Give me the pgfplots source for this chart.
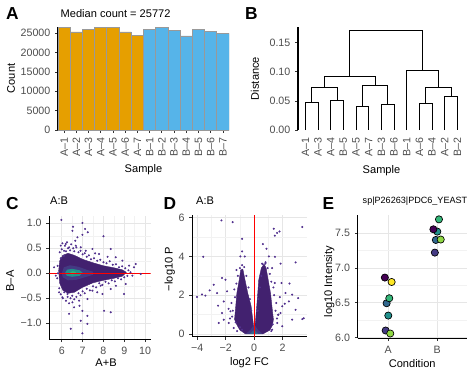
\documentclass[border=0pt]{standalone}
\usepackage{pgfplots}
\pgfplotsset{compat=1.18}
\usepackage{fontspec}
\setmainfont{Liberation Sans}
\definecolor{orangeA}{HTML}{E69F00}
\definecolor{blueA}{HTML}{56B4E9}
\definecolor{barline}{HTML}{999999}
\definecolor{v1}{HTML}{440154}
\definecolor{v2}{HTML}{443A83}
\definecolor{v3}{HTML}{31688E}
\definecolor{v4}{HTML}{21908C}
\definecolor{v5}{HTML}{35B779}
\definecolor{v6}{HTML}{8FD744}
\definecolor{v7}{HTML}{FDE725}
\definecolor{dotc}{HTML}{52318E}
\definecolor{dense}{HTML}{42216F}
\definecolor{tickgray}{HTML}{4D4D4D}
\definecolor{gridmaj}{HTML}{E6E6E6}
\definecolor{gridmin}{HTML}{F2F2F2}
\pgfplotsset{
  base/.style={scale only axis,
    font=\fontsize{8}{9.6}\selectfont,
    tick label style={font=\fontsize{8}{9.6}\selectfont, text=tickgray},
    /pgf/number format/assume math mode=true,
    scaled ticks=false,
    tick align=outside, major tick length=2.2pt, minor tick length=0pt,
    tick style={black!80, line width=0.5pt},
    axis line style={-, line width=0.8pt},
    label style={font=\fontsize{8.3}{10}\selectfont, text=black},
    axis x line*=bottom, axis y line*=left},
  gridded/.style={grid=both, major grid style={gridmaj, line width=0.5pt},
    minor grid style={gridmin, line width=0.35pt},
    axis line style={-, line width=1.1pt}},
  dot/.style={only marks, mark=*, mark size=0.55pt, color=#1},
  epoint/.style={only marks, mark=*, mark size=2.7pt, mark options={fill=#1, draw=black, line width=0.5pt}},
  dend/.style={black, solid, mark=none, line width=0.75pt, line join=miter},
}
\begin{document}
\begin{tikzpicture}[x=0.75pt,y=-0.75pt]
\path[use as bounding box] (0,0) rectangle (474,379);

% ---------- Panel A ----------
\node[font=\fontsize{13}{14}\selectfont\bfseries] at (12.5,14) {A};
\node[anchor=west, font=\fontsize{8.3}{10}\selectfont] at (56,13.5) {Median count = 25772};
\begin{axis}[base, at={(43.5pt,-97.5pt)}, anchor=south west, width=128.25pt, height=77.25pt,
  xmin=0.5, xmax=14.5, ymin=0, ymax=26600,
  xtick={1,...,14},
  xticklabels={A–1,A–2,A–3,A–4,A–5,A–6,A–7,B–1,B–2,B–3,B–4,B–5,B–6,B–7},
  xticklabel style={rotate=90, anchor=east},
  ytick={0,5000,10000,15000,20000,25000},
  yticklabels={0,5000,10000,15000,20000,25000},
  xlabel={Sample}, ylabel={Count},
  xlabel style={at={(axis description cs:0.5,-0.388)}, anchor=center},
  ylabel style={at={(axis description cs:-0.275,0.5)}, anchor=center}]
\addplot[ybar, bar width=1, fill=orangeA, draw=barline, line width=0.6pt] coordinates
  {(1,26450) (2,25330) (3,25930) (4,26450) (5,26450) (6,25330) (7,24480)};
\addplot[ybar, bar width=1, fill=blueA, draw=barline, line width=0.6pt] coordinates
  {(8,25860) (9,26370) (10,25780) (11,24300) (12,26040) (13,25410) (14,24900)};
\end{axis}

% ---------- Panel B ----------
\node[font=\fontsize{13}{14}\selectfont\bfseries] at (251.5,13.5) {B};
\begin{axis}[base, at={(223.5pt,-97.5pt)}, anchor=south west, width=125.25pt, height=77.25pt,
  xmin=0.42, xmax=13.6, ymin=0, ymax=0.177,
  x axis line style={draw=none}, xtick style={draw=none},
  xtick={1,...,13},
  xticklabels={A–1,A–3,A–4,B–5,A–5,A–7,B–3,B–6,B–1,A–6,B–4,A–2,B–2},
  xticklabel style={rotate=90, anchor=east},
  ytick={0,0.05,0.1,0.15}, yticklabels={0.00,0.05,0.10,0.15},
  xlabel={Sample}, ylabel={Distance},
  xlabel style={at={(axis description cs:0.5,-0.398)}, anchor=center},
  ylabel style={at={(axis description cs:-0.2575,0.5)}, anchor=center}]
\addplot[dend] coordinates {(1,0) (1,0.0475) (2,0.0475) (2,0)};
\addplot[dend] coordinates {(3,0) (3,0.0515) (4,0.0515) (4,0)};
\addplot[dend] coordinates {(1.5,0.0475) (1.5,0.0722) (3.5,0.0722) (3.5,0.0515)};
\addplot[dend] coordinates {(5,0) (5,0.040) (6,0.040) (6,0)};
\addplot[dend] coordinates {(7,0) (7,0.044) (8,0.044) (8,0)};
\addplot[dend] coordinates {(5.5,0.040) (5.5,0.0762) (7.5,0.0762) (7.5,0.044)};
\addplot[dend] coordinates {(2.5,0.0722) (2.5,0.0928) (6.5,0.0928) (6.5,0.0762)};
\addplot[dend] coordinates {(10,0) (10,0.0453) (11,0.0453) (11,0)};
\addplot[dend] coordinates {(12,0) (12,0.0584) (13,0.0584) (13,0)};
\addplot[dend] coordinates {(10.5,0.0453) (10.5,0.0733) (12.5,0.0733) (12.5,0.0584)};
\addplot[dend] coordinates {(9,0) (9,0.103) (11.5,0.103) (11.5,0.0733)};
\addplot[dend] coordinates {(4.5,0.0928) (4.5,0.171) (10.25,0.171) (10.25,0.103)};
\end{axis}

% ---------- Panel C ----------
\node[font=\fontsize{13}{14}\selectfont\bfseries] at (12.5,204) {C};
\node[anchor=west, font=\fontsize{8.3}{10}\selectfont] at (45.5,200.7) {A:B};
\begin{axis}[base, gridded, at={(36.975pt,-254.475pt)}, anchor=south west, width=76.05pt, height=92.5pt,
  xmin=5.40, xmax=10.27, ymin=-1.32, ymax=1.146,
  xtick={6,7,8,9,10}, xticklabels={6,7,8,9,10}, minor x tick num=1,
  ytick={-1,-0.5,0,0.5,1}, yticklabels={−1.0,−0.5,0.0,0.5,1.0}, minor y tick num=1,
  xlabel={A+B}, ylabel={B–A},
  xlabel style={at={(axis description cs:0.56,-0.192)}, anchor=center},
  ylabel style={at={(axis description cs:-0.388,0.473)}, anchor=center}]
\addplot[fill=dense, draw=dense, line width=0.3pt] coordinates {(5.85,0.05) (5.9,0.25) (6.05,0.36) (6.3,0.4) (6.6,0.36) (7.0,0.28) (7.5,0.21) (8.0,0.15) (8.5,0.11) (8.9,0.07) (9.1,0.02) (8.9,-0.06) (8.5,-0.1) (8.0,-0.14) (7.5,-0.19) (7.0,-0.28) (6.6,-0.38) (6.3,-0.4) (6.05,-0.34) (5.9,-0.2) (5.85,0.05)};
\addplot[fill=v2, draw=none] coordinates {(6.0,0) (6.1,0.12) (6.4,0.16) (6.8,0.13) (7.2,0.07) (7.5,0.03) (7.5,-0.03) (7.1,-0.08) (6.7,-0.13) (6.3,-0.14) (6.05,-0.08) (6.0,0)};
\addplot[fill=v4, draw=none] coordinates {(6.15,0) (6.25,0.07) (6.5,0.09) (6.85,0.06) (7.0,0.01) (6.85,-0.05) (6.5,-0.07) (6.25,-0.05) (6.15,0)};
\addplot[fill=v5, draw=none] coordinates {(6.4,0.01) (6.5,0.04) (6.65,0.03) (6.7,0) (6.55,-0.02) (6.42,-0.02) (6.4,0.01)};
\addplot[dot=dotc] coordinates {
(5.98,1.066) (6.99,1.006) (6.54,0.93) (7.12,0.886) (7.25,0.82) (8.0,0.74) (6.51,0.85) (6.99,0.77) (6.75,0.72)
(6.03,0.6) (6.19,0.586) (6.35,0.52) (6.67,0.553) (6.91,0.52) (7.15,0.45) (7.47,0.486) (7.79,0.386) (8.35,0.486)
(8.59,0.32) (8.91,0.253) (9.55,0.186) (9.47,0.12) (9.23,0.153) (9.79,-0.014) (9.39,-0.047) (9.07,-0.214)
(8.99,-0.414) (8.35,-0.314) (7.95,-0.414) (7.87,-0.247) (7.47,-0.347) (7.23,-0.514) (6.83,-0.547) (6.51,-0.58)
(6.27,-0.414) (6.03,-0.48) (5.87,-0.38) (6.59,-0.68) (6.99,-0.75) (8.03,-0.75) (8.35,-0.78) (6.35,-0.81)
(7.23,-0.85) (6.91,-0.95) (6.43,-1.11) (6.99,-1.2) (7.23,-1.01) (5.63,0.12) (5.71,-0.047) (5.95,0.553) (6.11,0.45)
(5.9,0.42) (5.95,0.3) (6.0,0.48) (6.1,0.35) (6.15,0.55) (6.2,0.44) (6.25,0.62) (6.3,0.5) (6.4,0.46) (6.45,0.58)
(6.55,0.5) (6.6,0.44) (6.7,0.52) (6.8,0.42) (6.9,0.45) (7.0,0.38) (7.1,0.4) (7.2,0.33) (7.3,0.36) (7.4,0.28)
(7.55,0.3) (7.7,0.25) (7.85,0.27) (8.0,0.22) (8.15,0.2) (8.3,0.24) (8.45,0.17) (8.6,0.18) (8.75,0.12) (8.9,0.14)
(9.05,0.1) (9.2,0.06) (9.3,0.02) (5.88,-0.3) (5.95,-0.42) (6.05,-0.5) (6.12,-0.38) (6.2,-0.55) (6.28,-0.47)
(6.35,-0.6) (6.42,-0.5) (6.5,-0.45) (6.6,-0.52) (6.7,-0.47) (6.8,-0.4) (6.9,-0.44) (7.0,-0.36) (7.1,-0.4)
(7.2,-0.31) (7.35,-0.34) (7.5,-0.26) (7.65,-0.28) (7.8,-0.2) (7.95,-0.23) (8.1,-0.17) (8.25,-0.2) (8.4,-0.14)
(8.55,-0.16) (8.7,-0.1) (8.85,-0.12) (9.0,-0.08) (9.15,-0.05) (5.8,0.15) (5.78,-0.1) (5.82,0.0) (6.65,0.65)
(6.85,-0.65) (7.6,0.4) (7.7,-0.38) (8.2,0.33) (8.6,-0.25)};
\addplot[red, line width=1pt] coordinates {(5.40,0) (10.27,0)};
\end{axis}

% ---------- Panel D ----------
\node[font=\fontsize{13}{14}\selectfont\bfseries] at (170,204) {D};
\node[anchor=west, font=\fontsize{8.3}{10}\selectfont] at (191.5,200.7) {A:B};
\begin{axis}[base, gridded, at={(144.225pt,-252.525pt)}, anchor=south west, width=85.8pt, height=91.3pt,
  xmin=-4.35, xmax=3.69, ymin=-0.14, ymax=6.14,
  xtick={-4,-2,0,2}, xticklabels={−4,−2,0,2}, minor x tick num=1,
  ytick={0,2,4,6}, yticklabels={0,2,4,6}, minor y tick num=1,
  xlabel={log2 FC}, ylabel={−log10 P},
  xlabel style={at={(axis description cs:0.5,-0.216)}, anchor=center},
  ylabel style={at={(axis description cs:-0.198,0.556)}, anchor=center}]
\addplot[fill=dense, draw=dense, line width=0.3pt] coordinates {(0,0) (-0.6,0) (-1.0,0.2) (-1.2,0.45) (-1.38,0.75) (-1.3,1.4) (-1.22,2.1) (-1.05,2.8) (-0.95,3.3) (-0.8,3.35) (-0.65,2.8) (-0.45,2.1) (-0.22,1.45) (-0.1,0.75) (-0.03,0.35) (0,0.1) (0,0)};
\addplot[fill=dense, draw=dense, line width=0.3pt] coordinates {(0,0) (0.6,0) (1.1,0.2) (1.28,0.45) (1.35,0.75) (1.25,1.4) (1.15,2.1) (0.98,2.8) (0.84,3.4) (0.7,3.6) (0.5,3.4) (0.32,2.8) (0.25,2.1) (0.18,1.45) (0.1,0.75) (0.04,0.35) (0.02,0.1) (0,0)};
\addplot[fill=v2, draw=none] coordinates {(-0.6,0) (-0.25,0.22) (-0.04,0.45) (0.04,0.45) (0.25,0.22) (0.6,0) (-0.6,0)};
\addplot[fill=v3, draw=none] coordinates {(-0.3,0) (-0.05,0.18) (0.05,0.18) (0.3,0) (-0.3,0)};
\addplot[dot=dotc] coordinates {
(-2.30,5.86) (-1.51,5.77) (-0.85,4.91) (1.38,5.43) (1.61,5.21) (1.78,5.29) (1.45,5.07) (3.38,5.52) (0.61,4.64)
(0.86,4.40) (-0.85,4.26) (-0.97,4.0) (-0.66,4.0) (-3.58,3.98) (2.91,3.69) (1.85,3.63) (1.03,4.0) (0.56,3.63)
(0.79,3.63) (1.26,3.40) (1.45,2.63) (1.92,2.63) (2.48,2.60) (-2.26,2.89) (-2.02,2.8) (-2.85,2.54) (-3.13,2.25)
(-3.43,1.98) (-4.02,1.91) (-3.67,2.04) (-2.61,2.11) (-1.91,2.2) (-2.54,1.46) (-2.14,1.68) (-2.26,1.08)
(-2.49,0.57) (-2.14,0.74) (-1.67,1.17) (-1.79,0.57) (-1.44,0.31) (-0.85,0.22) (2.20,2.11) (2.67,2.03) (3.09,1.85)
(2.44,1.68) (1.97,1.43) (2.91,1.25) (2.67,0.74) (3.38,0.77) (1.85,1.08) (1.62,0.57) (1.97,0.40) (1.26,0.22)
(1.68,0.99) (2.15,1.56) (3.48,0.81) (1.46,3.98)
(-1.5,1.2) (-1.55,0.9) (-1.3,0.6) (-1.0,0.35) (-1.6,1.6) (-1.35,1.9) (-1.4,2.3) (-1.25,2.6) (-1.15,3.0)
(-1.0,3.4) (-0.85,3.55) (-0.7,3.45) (-1.7,0.8) (-1.2,0.15) (-1.8,1.3) (-1.25,3.3) (-0.55,3.0) (-0.4,2.4)
(-0.3,1.8) (-0.2,1.2) (1.5,1.2) (1.6,0.8) (1.3,0.5) (1.55,1.6) (1.4,2.0) (1.35,2.4) (1.2,2.7) (1.1,3.1)
(0.95,3.4) (0.8,3.7) (0.6,3.6) (1.7,1.0) (1.2,0.15) (1.8,1.9) (0.5,3.0) (0.4,2.4) (0.3,1.8) (0.25,1.2)};
\addplot[red, line width=1pt] coordinates {(0,-0.14) (0,6.14)};
\end{axis}

% ---------- Panel E ----------
\node[font=\fontsize{13}{14}\selectfont\bfseries] at (328.5,204) {E};
\node[anchor=west, font=\fontsize{6.8}{8}\selectfont] at (358,201) {sp|P26263|PDC6\_YEAST};
\begin{axis}[base, gridded, at={(268.275pt,-253.725pt)}, anchor=south west, width=81.75pt, height=92.5pt,
  xmin=0.376, xmax=2.6, ymin=5.99, ymax=7.763,
  xtick={1,2}, xticklabels={A,B},
  ytick={6,6.5,7,7.5}, yticklabels={6.0,6.5,7.0,7.5}, minor y tick num=1,
  xlabel={Condition}, ylabel={log10 Intensity},
  xlabel style={at={(axis description cs:0.5,-0.208)}, anchor=center},
  ylabel style={at={(axis description cs:-0.26,0.459)}, anchor=center}]
\addplot[epoint=v4] coordinates {(1.0,6.317) (2.0,7.524)};
\addplot[epoint=v1] coordinates {(0.93,6.863) (1.92,7.557)};
\addplot[epoint=v2] coordinates {(0.946,6.102) (1.95,7.222)};
\addplot[epoint=v3] coordinates {(0.966,6.494) (1.97,7.404)};
\addplot[epoint=v5] coordinates {(1.02,6.566) (2.034,7.70)};
\addplot[epoint=v6] coordinates {(1.04,6.059) (2.07,7.41)};
\addplot[epoint=v7] coordinates {(1.068,6.80)};
\end{axis}
\end{tikzpicture}
\end{document}
